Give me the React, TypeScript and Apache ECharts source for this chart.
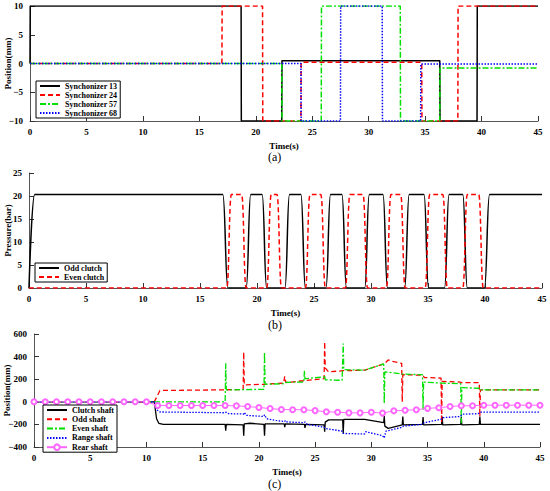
import React, { useEffect, useRef } from "react";
import * as echarts from "echarts";

const FONT = '"Liberation Serif", "Times New Roman", serif';

// (a) synchronizer positions [time s, position mm]
const sync13 = [[0,0],[0.02,10],[18.7,10],[18.72,-10],[22.3,-10],[22.32,0.5],[36.3,0.5],[36.32,-10],[39.6,-10],[39.62,10],[45,10]];
const sync24 = [[0,0],[17,0],[17.02,10],[20.6,10],[20.62,-10],[24,-10],[24.02,0.2],[34.7,0.2],[34.72,-10],[37.9,-10],[37.92,10],[45,10]];
const sync57 = [[0,0],[22.3,0],[22.32,-10],[25.8,-10],[25.82,10],[32.8,10],[32.82,-10],[36.3,-10],[36.32,-0.8],[45,-0.8]];
const sync68 = [[0,0],[24,0],[24.02,-10],[27.5,-10],[27.52,10],[31.2,10],[31.22,-10],[34.6,-10],[34.62,-0.1],[45,-0.1]];

// (b) clutch pressures [time s, pressure bar]
const oddClutch = [[0,0],[0.5,20.3],[17.0,20.3],[17.45,0],[19.05,0],[19.45,20.3],[20.45,20.3],[20.85,0],[22.45,0],[22.85,20.3],[23.85,20.3],[24.25,0],[26.05,0],[26.45,20.3],[27.45,20.3],[27.85,0],[29.45,0],[29.85,20.3],[31.05,20.3],[31.45,0],[32.95,0],[33.35,20.3],[34.65,20.3],[35.05,0],[36.45,0],[36.85,20.3],[38.05,20.3],[38.45,0],[39.95,0],[40.4,20.3],[45,20.3]];
const evenClutch = [[0,0],[17.35,0],[17.75,20.3],[18.65,20.3],[19.05,0],[20.85,0],[21.25,20.3],[21.75,20.3],[22.15,0],[24.25,0],[24.65,20.3],[25.6,20.3],[26.0,0],[27.75,0],[28.15,20.3],[29.3,20.3],[29.7,0],[31.35,0],[31.75,20.3],[32.6,20.3],[33.0,0],[34.75,0],[35.15,20.3],[36.3,20.3],[36.7,0],[38.05,0],[38.45,20.3],[39.45,20.3],[39.85,0],[45,0]];

// (c) shaft positions [time s, position mm]
const clutchShaft = [[0,0],[10.7,0],[10.9,-150],[11.1,-190],[11.5,-200],[17.0,-200],[17.05,-255],[17.1,-200],[18.6,-205],[18.65,-300],[18.7,-195],[19.2,-190],[20.45,-200],[20.5,-300],[20.55,-195],[22.25,-195],[22.3,-225],[22.35,-195],[24.05,-200],[24.1,-230],[24.15,-200],[25.8,-205],[25.85,-265],[25.9,-180],[26.2,-160],[27.45,-160],[27.5,-280],[27.55,-155],[29.4,-155],[31.1,-185],[31.15,-125],[31.2,-215],[31.5,-235],[32.75,-205],[32.8,-130],[32.85,-205],[34.55,-200],[34.6,-135],[34.65,-205],[36.25,-200],[36.3,-130],[36.35,-205],[37.95,-200],[38.0,-135],[38.05,-205],[39.6,-200],[39.65,-130],[39.7,-200],[45,-200]];
const oddShaft = [[0,0],[10.7,0],[11.2,100],[18.6,108],[18.65,440],[18.7,150],[20.5,155],[22.2,165],[22.3,225],[22.4,170],[25.8,205],[25.85,530],[25.9,300],[26.2,265],[27.5,275],[29.4,280],[31.1,335],[31.2,340],[31.5,370],[32.0,355],[32.7,340],[32.75,0],[32.8,240],[34.6,235],[34.7,215],[36.2,210],[36.25,-185],[36.3,180],[37.9,175],[38.0,170],[39.6,170],[39.65,-130],[39.7,105],[45,105]];
const evenShaft = [[0,0],[17.0,0],[17.05,340],[17.1,105],[18.7,108],[20.45,110],[20.5,440],[20.55,155],[22.2,160],[22.3,172],[24.0,175],[24.05,275],[24.1,205],[25.8,220],[25.85,235],[25.9,195],[27.4,190],[27.5,515],[27.55,285],[29.4,280],[31.1,335],[31.15,-15],[31.2,265],[32.8,245],[34.55,240],[34.6,-70],[34.65,175],[36.3,165],[37.95,160],[38.0,-190],[38.05,125],[39.6,120],[39.65,105],[45,105]];
const rangeShaft = [[0,0],[10.7,0],[10.9,-70],[11.2,-90],[17.0,-97],[17.1,-92],[17.3,-105],[18.65,-108],[18.7,-95],[18.9,-120],[20.45,-130],[20.5,-115],[20.7,-150],[21.5,-165],[22.3,-175],[22.35,-165],[22.5,-178],[24.0,-185],[24.1,-178],[24.3,-200],[25.8,-225],[25.9,-235],[27.4,-260],[27.5,-280],[29.4,-285],[29.5,-265],[31.0,-300],[31.15,-320],[31.3,-260],[32.75,-225],[32.85,-215],[34.5,-200],[34.7,-185],[36.2,-155],[36.4,-140],[37.9,-130],[38.1,-110],[39.5,-105],[39.7,-92],[45,-92]];
const rearTimes = [0,1,2,3,4,5,6,7,8,9,10,11,12,13,14,15,16,17,18,19,20,21,22,23,24,25,26,27,28,29,30,31,32,33,34,35,36,37,38,39,40,41,42,43,44,45];
const rearValues = [0,0,0,0,0,0,0,0,0,0,0,-33,-33,-33,-33,-33,-33,-33,-36,-42,-50,-60,-68,-70,-70,-78,-88,-92,-98,-98,-92,-100,-80,-75,-70,-58,-52,-42,-35,-35,-30,-30,-30,-30,-30,-30];

const labelFmt = (v: number) => (v < 0 ? "\u2212" + Math.abs(v) : String(v));

function xAxis(gridIndex: number) {
  return {
    type: "value", gridIndex, min: 0, max: 45, interval: 5,
    name: "Time(s)", nameLocation: "middle", nameGap: 20,
    nameTextStyle: { fontFamily: FONT, fontWeight: "bold", fontSize: 9, color: "#000" },
    axisLine: { onZero: false, lineStyle: { color: "#555", width: 1 } },
    axisTick: { inside: true, length: 5, lineStyle: { color: "#333" } },
    axisLabel: { margin: 6, fontFamily: FONT, fontWeight: "bold", fontSize: 9, color: "#000", formatter: labelFmt },
    splitLine: { show: false },
  };
}

function yAxis(gridIndex: number, name: string, min: number, max: number, interval: number, nameGap: number) {
  return {
    type: "value", gridIndex, min, max, interval,
    name, nameLocation: "middle", nameGap, nameMoveOverlap: false,
    nameTextStyle: { fontFamily: FONT, fontWeight: "bold", fontSize: 9, color: "#000" },
    axisLine: { show: true, onZero: false, lineStyle: { color: "#555", width: 1 } },
    axisTick: { inside: true, length: 5, lineStyle: { color: "#333" } },
    axisLabel: { margin: 7, fontFamily: FONT, fontWeight: "bold", fontSize: 9, color: "#000", formatter: labelFmt },
    splitLine: { show: false },
  };
}

function line(name: string, data: number[][], idx: number, color: string, type: any, width = 1.5, z = 2) {
  return {
    name, type: "line", xAxisIndex: idx, yAxisIndex: idx, data,
    symbol: "none", z,
    lineStyle: { color, width, type },
    itemStyle: { color },
  };
}

const legendBase = {
  orient: "vertical",
  borderColor: "#000",
  borderWidth: 1,
  backgroundColor: "#fff",
  itemWidth: 20,
  itemGap: 1,
  padding: [1, 3],
  itemStyle: { opacity: 0 },
  textStyle: { fontFamily: FONT, fontWeight: "bold", fontSize: 8, color: "#000" },
  selectedMode: false,
};

export default function App() {
  const ref = useRef<HTMLDivElement>(null);
  useEffect(() => {
    document.body.style.margin = "0";
    const chart = echarts.init(ref.current!, null, { renderer: "svg" });
    const dashDot = [6, 2, 2, 2];
    chart.setOption({
      animation: false,
      backgroundColor: "#fff",
      grid: [
        { left: 30, top: 6, width: 508, height: 115, outerBoundsMode: "none", containLabel: false },
        { left: 29, top: 173, width: 513, height: 115, outerBoundsMode: "none", containLabel: false },
        { left: 34, top: 334, width: 506, height: 113, outerBoundsMode: "none", containLabel: false },
      ],
      xAxis: [xAxis(0), xAxis(1), xAxis(2)],
      yAxis: [
        yAxis(0, "Position(mm)", -10, 10, 5, 17.5),
        yAxis(1, "Pressure(bar)", 0, 25, 5, 16.5),
        yAxis(2, "Position(mm)", -400, 600, 200, 22.5),
      ],
      legend: [
        { ...legendBase, left: 36, top: 81, itemHeight: 8, data: ["Synchonizer 13", "Synchonizer 24", "Synchonizer 57", "Synchonizer 68"] },
        { ...legendBase, left: 35, top: 263, itemHeight: 8, data: ["Odd clutch", "Even clutch"] },
        {
          ...legendBase, left: 43, top: 405, itemHeight: 7, itemGap: 1.3,
          data: ["Clutch shaft", "Odd shaft", "Even shaft", "Range shaft",
            { name: "Rear shaft", itemStyle: { opacity: 1, color: "#ff66ff", borderColor: "#ff66ff", borderWidth: 1 } }],
        },
      ],
      graphic: [
        { type: "text", left: 268, top: 151, style: { text: "(a)", font: `12px ${FONT}`, fill: "#000" } },
        { type: "text", left: 268, top: 319, style: { text: "(b)", font: `12px ${FONT}`, fill: "#000" } },
        { type: "text", left: 268, top: 478, style: { text: "(c)", font: `12px ${FONT}`, fill: "#000" } },
      ],
      series: [
        line("Synchonizer 13", sync13, 0, "#000", "solid", 1.5),
        line("Synchonizer 24", sync24, 0, "#ff0000", [5, 3], 1.5),
        line("Synchonizer 57", sync57, 0, "#00e000", dashDot, 1.5),
        line("Synchonizer 68", sync68, 0, "#0000ff", [1.5, 1.5], 1.5),
        { ...line("Odd clutch", oddClutch, 1, "#000", "solid", 1.5), smooth: 0.5, smoothMonotone: "x" },
        { ...line("Even clutch", evenClutch, 1, "#ff0000", [5, 3], 1.5), smooth: 0.5, smoothMonotone: "x" },
        line("Clutch shaft", clutchShaft, 2, "#000", "solid", 1.3),
        line("Odd shaft", oddShaft, 2, "#ff0000", [5, 3], 1.3),
        line("Even shaft", evenShaft, 2, "#00e000", dashDot, 1.3),
        line("Range shaft", rangeShaft, 2, "#0000ff", [1.5, 1.5], 1.3),
        {
          name: "Rear shaft", type: "line", xAxisIndex: 2, yAxisIndex: 2,
          data: rearTimes.map((t, i) => [t, rearValues[i]]),
          symbol: "emptyCircle", symbolSize: 5, showAllSymbol: true,
          lineStyle: { color: "#ff66ff", width: 1 },
          itemStyle: { color: "#ff66ff", borderWidth: 1 },
        },
      ],
    });
    return () => chart.dispose();
  }, []);
  return <div ref={ref} style={{ width: 550, height: 491 }} />;
}
